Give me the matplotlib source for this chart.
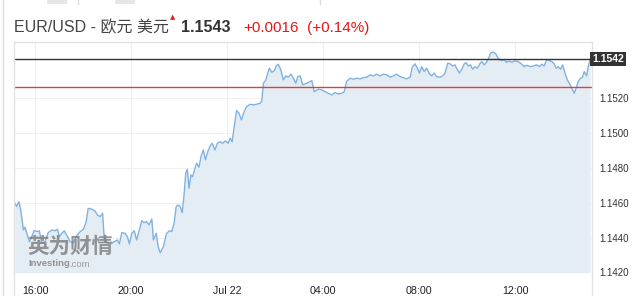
# EUR/USD intraday line chart (investing.com style)
import matplotlib
matplotlib.use("Agg")
import matplotlib.pyplot as plt
from matplotlib.lines import Line2D
from matplotlib.patches import Rectangle
import matplotlib.transforms as mtransforms

plt.rcParams["font.family"] = ["Liberation Sans", "Noto Sans CJK SC", "DejaVu Sans"]

W, H = 637, 296

# minutes after 16:00 (Jul 21)
minutes = [
    -50, -46, -40, -35, -29, -25, -21, -14, -8, -2, 6, 11, 17, 25, 33, 42, 50, 56, 61, 67,
    73, 79, 88, 96, 104, 113, 121, 128, 133, 142, 150, 156, 163, 169, 173, 181, 189, 198, 206, 211,
    217, 225, 231, 236, 242, 248, 254, 261, 267, 273, 279, 285, 292, 296, 303, 308, 313, 321, 329, 336,
    342, 348, 353, 358, 363, 368, 373, 377, 381, 385, 390, 394, 400, 404, 410, 415, 421, 426, 432, 438,
    443, 450, 456, 463, 469, 476, 483, 488, 493, 498, 504, 510, 516, 523, 529, 538, 546, 554, 563, 567,
    571, 577, 582, 586, 592, 598, 603, 608, 614, 621, 627, 633, 640, 646, 652, 657, 663, 669, 679, 692,
    698, 708, 717, 725, 733, 742, 750, 758, 767, 773, 779, 788, 796, 804, 813, 821, 829, 838, 846, 854,
    863, 871, 879, 888, 896, 904, 913, 921, 929, 938, 943, 950, 956, 961, 967, 973, 979, 986, 992, 998,
    1004, 1013, 1019, 1025, 1032, 1038, 1044, 1050, 1054, 1061, 1067, 1073, 1078, 1083, 1089, 1094, 1100, 1106, 1113, 1117,
    1123, 1128, 1133, 1139, 1146, 1152, 1158, 1165, 1173, 1179, 1186, 1192, 1200, 1208, 1217, 1223, 1229, 1238, 1246, 1254,
    1261, 1267, 1273, 1279, 1286, 1292, 1298, 1303, 1308, 1314, 1319, 1325, 1331, 1336, 1342, 1348, 1353, 1358, 1364, 1369,
    1373, 1379, 1383, 1388,
]
prices = [
    1.14596, 1.14577, 1.14605, 1.14548, 1.14443, 1.14459, 1.14428, 1.14376, 1.14405, 1.14439,
    1.14434, 1.14438, 1.14367, 1.14376, 1.14428, 1.14443, 1.14439, 1.14447, 1.14405, 1.14424,
    1.14438, 1.14415, 1.14376, 1.14371, 1.14409, 1.14434, 1.14447, 1.14491, 1.14567, 1.14562,
    1.14552, 1.14529, 1.14519, 1.14539, 1.14396, 1.14367, 1.14363, 1.14376, 1.14386, 1.14363,
    1.14428, 1.14424, 1.14405, 1.14363, 1.14424, 1.14439, 1.14386, 1.14443, 1.14496, 1.14485,
    1.14491, 1.14472, 1.14506, 1.14386, 1.14424, 1.14348, 1.14313, 1.14348, 1.14424, 1.14439,
    1.14434, 1.14485, 1.14577, 1.14586, 1.14577, 1.14542, 1.14653, 1.14771, 1.14790, 1.14682,
    1.14758, 1.14748, 1.14796, 1.14825, 1.14802, 1.14863, 1.14901, 1.14844, 1.14891, 1.14924,
    1.14939, 1.14901, 1.14939, 1.14948, 1.14939, 1.14952, 1.14939, 1.14968, 1.14948, 1.15034,
    1.15126, 1.15111, 1.15072, 1.15120, 1.15149, 1.15162, 1.15158, 1.15162, 1.15168, 1.15181,
    1.15282, 1.15301, 1.15340, 1.15368, 1.15345, 1.15353, 1.15381, 1.15391, 1.15362, 1.15301,
    1.15324, 1.15317, 1.15334, 1.15311, 1.15282, 1.15320, 1.15324, 1.15273, 1.15282, 1.15297,
    1.15234, 1.15248, 1.15244, 1.15234, 1.15225, 1.15215, 1.15229, 1.15221, 1.15225, 1.15234,
    1.15292, 1.15311, 1.15305, 1.15311, 1.15307, 1.15314, 1.15317, 1.15330, 1.15324, 1.15334,
    1.15324, 1.15334, 1.15330, 1.15317, 1.15324, 1.15334, 1.15320, 1.15314, 1.15307, 1.15317,
    1.15374, 1.15393, 1.15368, 1.15340, 1.15377, 1.15349, 1.15368, 1.15336, 1.15324, 1.15340,
    1.15320, 1.15317, 1.15324, 1.15340, 1.15397, 1.15393, 1.15381, 1.15387, 1.15368, 1.15340,
    1.15362, 1.15393, 1.15400, 1.15381, 1.15387, 1.15362, 1.15377, 1.15368, 1.15397, 1.15406,
    1.15387, 1.15400, 1.15420, 1.15454, 1.15461, 1.15450, 1.15425, 1.15412, 1.15416, 1.15402,
    1.15410, 1.15402, 1.15410, 1.15406, 1.15391, 1.15377, 1.15385, 1.15377, 1.15381, 1.15387,
    1.15377, 1.15391, 1.15381, 1.15416, 1.15412, 1.15406, 1.15393, 1.15368, 1.15377, 1.15362,
    1.15387, 1.15340, 1.15301, 1.15282, 1.15254, 1.15225, 1.15254, 1.15292, 1.15311, 1.15317,
    1.15349, 1.15324, 1.15377, 1.15420,
]

tick_minutes = [0, 240, 480, 720, 960, 1200]
tick_labels = ["16:00", "20:00", "Jul 22", "04:00", "08:00", "12:00"]
y_ticks = [1.1420, 1.1440, 1.1460, 1.1480, 1.1500, 1.1520]

last_price = 1.1542
prev_close = 1.1526

fig = plt.figure(figsize=(W / 100, H / 100), dpi=100)
fig.patch.set_facecolor("white")

def px(x, y):
    # pixel (from top-left) -> figure fraction
    return x / W, 1 - y / H

ax_l, ax_r, ax_t, ax_b = 14, 592, 42, 272.5
ax = fig.add_axes([ax_l / W, 1 - ax_b / H, (ax_r - ax_l) / W, (ax_b - ax_t) / H])
ax.set_xlim(-52.5, 1392.5)
ax.set_ylim(1.1420, 1.15518)

ax.fill_between(minutes, prices, 1.1420, color="#e5edf4", lw=0)
ax.plot(minutes, prices, color="#80b2e0", lw=1.0)

ax.axhline(last_price, color="#333333", lw=1.0)
ax.axhline(prev_close, color="#cf4545", lw=1.0)

ax.set_xticks(tick_minutes)
ax.set_xticklabels(tick_labels)
ax.set_yticks(y_ticks)
ax.set_yticklabels([f"{v:.4f}" for v in y_ticks])
ax.yaxis.tick_right()
ax.tick_params(axis="y", length=0, pad=5, labelsize=7, labelcolor="#333333")
ax.tick_params(axis="x", length=0, pad=10, labelsize=7.7, labelcolor="#222222")
ax.grid(True, color="#eef0f2", lw=0.8)
ax.set_axisbelow(True)

for s in ["top", "left", "right"]:
    ax.spines[s].set_color("#e2e2e2")
    ax.spines[s].set_linewidth(1.0)
ax.spines["bottom"].set_visible(False)

# price label on the right
trans = mtransforms.blended_transform_factory(ax.transAxes, ax.transData)
ax.text(1.0, last_price, "1.1542", transform=trans, ha="left", va="center",
        fontsize=7.5, fontweight="bold", color="white",
        bbox=dict(boxstyle="square,pad=0.2", fc="#333333", ec="none"))

# borders running down past the axes
for x in (ax_l, ax_r):
    fig.add_artist(Line2D([x / W, x / W], [0, 1 - ax_b / H], color="#e2e2e2", lw=1.0))
fig.add_artist(Line2D([2.5 / W, 2.5 / W], [0, 1], color="#dddddd", lw=1.0))
# cut-off tabs at very top
for x0, x1 in [(47, 67), (115, 135)]:
    fig.add_artist(Rectangle(px(x0, 4), (x1 - x0) / W, 4 / H, color="#e6e6e6", lw=0))
for x in (78, 320):
    fig.add_artist(Line2D([x / W, x / W], [1 - 4 / H, 1], color="#dddddd", lw=1.0))

# header
fig.text(*px(14, 28), "EUR/USD - 欧元 美元", fontsize=11.5, color="#444444", va="center")
fig.text(*px(172.5, 17.5), "▲", fontsize=5, color="#e0262c", ha="center", va="center",
         family=["DejaVu Sans"])
fig.text(*px(181, 28), "1.1543", fontsize=11.5, fontweight="bold", color="#333333", va="center")
fig.text(*px(243, 28), "+0.0016", fontsize=11, color="#e8141b", va="center")
fig.text(*px(307, 28), "(+0.14%)", fontsize=11, color="#e8141b", va="center")

# watermark
fig.text(*px(27, 246), "英为财情", fontsize=15.5, fontweight="bold", color="#7a7a7a",
         alpha=0.8, va="center", family=["Noto Sans CJK SC"])
fig.text(*px(28, 264), "Investing", fontsize=6.8, fontweight="bold", color="#7a7a7a",
         alpha=0.8, va="center")
fig.text(*px(69, 264.5), ".com", fontsize=6.8, color="#8a8a8a", alpha=0.8, va="center")

fig.savefig("out.png", dpi=100)
